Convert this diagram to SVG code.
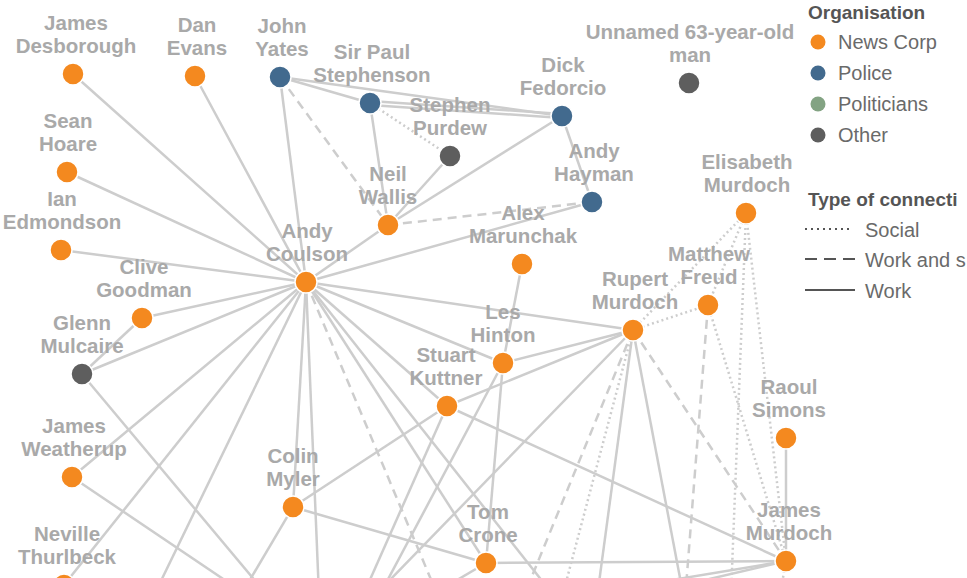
<svg xmlns="http://www.w3.org/2000/svg" width="967" height="578" viewBox="0 0 967 578">
<style>
.e{stroke:#cdcdcd;stroke-width:2.5;fill:none}
.d{stroke-dasharray:9,6}
.o{stroke-dasharray:2,3}
.n{stroke:#fff;stroke-width:1.5}
.news{fill:#f4891f}
.police{fill:#426a8e}
.pol{fill:#83a383}
.other{fill:#5e5e5e}
.lb{font-family:"Liberation Sans",Arial,sans-serif;font-weight:bold;font-size:20.5px;fill:#a9a9a9;text-anchor:middle}
.lt{font-family:"Liberation Sans",Arial,sans-serif;font-weight:bold;font-size:19px;fill:#555}
.li{font-family:"Liberation Sans",Arial,sans-serif;font-size:20px;fill:#6a6a6a}
.ll{stroke:#555;stroke-width:2.2;fill:none}
</style>
<rect width="967" height="578" fill="#fff"/>
<g id="connectors">
<line class="e" x1="306" y1="282" x2="73" y2="74"/>
<line class="e" x1="306" y1="282" x2="195" y2="76"/>
<line class="e" x1="306" y1="282" x2="280" y2="77"/>
<line class="e" x1="306" y1="282" x2="67" y2="172"/>
<line class="e" x1="306" y1="282" x2="61" y2="250"/>
<line class="e" x1="306" y1="282" x2="142" y2="318"/>
<line class="e" x1="306" y1="282" x2="82" y2="374"/>
<line class="e" x1="306" y1="282" x2="388" y2="225"/>
<line class="e" x1="306" y1="282" x2="592" y2="202"/>
<line class="e" x1="306" y1="282" x2="633" y2="330"/>
<line class="e" x1="306" y1="282" x2="503" y2="363"/>
<line class="e" x1="306" y1="282" x2="447" y2="406"/>
<line class="e" x1="306" y1="282" x2="72" y2="477"/>
<line class="e" x1="306" y1="282" x2="64" y2="585"/>
<line class="e" x1="306" y1="282" x2="293" y2="507"/>
<line class="e" x1="306" y1="282" x2="486" y2="563"/>
<line class="e" x1="306" y1="282" x2="142" y2="620"/>
<line class="e" x1="306" y1="282" x2="320" y2="620"/>
<line class="e" x1="306" y1="282" x2="573" y2="620"/>
<line class="e d" x1="306" y1="282" x2="448" y2="620"/>
<line class="e" x1="280" y1="77" x2="370" y2="103"/>
<line class="e" x1="280" y1="77" x2="562" y2="116"/>
<line class="e d" x1="280" y1="77" x2="388" y2="225"/>
<line class="e" x1="370" y1="101" x2="562" y2="114"/>
<line class="e" x1="370" y1="105" x2="562" y2="118"/>
<line class="e" x1="370" y1="103" x2="388" y2="225"/>
<line class="e o" x1="370" y1="103" x2="450" y2="156"/>
<line class="e" x1="388" y1="225" x2="450" y2="156"/>
<line class="e" x1="388" y1="225" x2="562" y2="116"/>
<line class="e d" x1="388" y1="225" x2="592" y2="202"/>
<line class="e" x1="562" y1="116" x2="592" y2="202"/>
<line class="e" x1="142" y1="318" x2="82" y2="374"/>
<line class="e" x1="82" y1="374" x2="288" y2="620"/>
<line class="e" x1="72" y1="477" x2="284" y2="620"/>
<line class="e" x1="293" y1="507" x2="238" y2="600"/>
<line class="e" x1="522" y1="264" x2="503" y2="363"/>
<line class="e" x1="503" y1="363" x2="486" y2="563"/>
<line class="e" x1="503" y1="363" x2="633" y2="330"/>
<line class="e" x1="503" y1="363" x2="377" y2="600"/>
<line class="e" x1="447" y1="406" x2="633" y2="330"/>
<line class="e" x1="447" y1="406" x2="293" y2="507"/>
<line class="e" x1="447" y1="406" x2="786" y2="561"/>
<line class="e" x1="447" y1="406" x2="361" y2="600"/>
<line class="e" x1="293" y1="507" x2="486" y2="563"/>
<line class="e" x1="486" y1="563" x2="786" y2="561"/>
<line class="e" x1="486" y1="563" x2="430" y2="596"/>
<line class="e" x1="786" y1="438" x2="786" y2="561"/>
<line class="e" x1="786" y1="561" x2="600" y2="592"/>
<line class="e" x1="786" y1="561" x2="620" y2="600"/>
<line class="e o" x1="786" y1="561" x2="779" y2="600"/>
<line class="e o" x1="633" y1="330" x2="708" y2="305"/>
<line class="e o" x1="633" y1="330" x2="746" y2="213"/>
<line class="e o" x1="746" y1="213" x2="708" y2="305"/>
<line class="e o" x1="746" y1="213" x2="786" y2="561"/>
<line class="e o" x1="708" y1="305" x2="786" y2="561"/>
<line class="e o" x1="746" y1="213" x2="730" y2="620"/>
<line class="e d" x1="633" y1="330" x2="786" y2="561"/>
<line class="e d" x1="708" y1="305" x2="685" y2="600"/>
<line class="e" x1="633" y1="330" x2="351" y2="620"/>
<line class="e d" x1="633" y1="330" x2="514" y2="620"/>
<line class="e o" x1="633" y1="330" x2="556" y2="620"/>
<line class="e" x1="633" y1="330" x2="594" y2="620"/>
<line class="e" x1="633" y1="330" x2="688" y2="620"/>
</g>
<g id="desborough"><circle class="n news" cx="73" cy="74" r="11"/><text class="lb" x="76" y="30">James</text><text class="lb" x="76" y="53">Desborough</text></g>
<g id="evans"><circle class="n news" cx="195" cy="76" r="11"/><text class="lb" x="197" y="32">Dan</text><text class="lb" x="197" y="55">Evans</text></g>
<g id="yates"><circle class="n police" cx="280" cy="77" r="11"/><text class="lb" x="282" y="33">John</text><text class="lb" x="282" y="56">Yates</text></g>
<g id="stephenson"><circle class="n police" cx="370" cy="103" r="11"/><text class="lb" x="372" y="59">Sir Paul</text><text class="lb" x="372" y="82">Stephenson</text></g>
<g id="purdew"><circle class="n other" cx="450" cy="156" r="11"/><text class="lb" x="450" y="112">Stephen</text><text class="lb" x="450" y="135">Purdew</text></g>
<g id="fedorcio"><circle class="n police" cx="562" cy="116" r="11"/><text class="lb" x="563" y="72">Dick</text><text class="lb" x="563" y="95">Fedorcio</text></g>
<g id="unnamed"><circle class="n other" cx="689" cy="83" r="11"/><text class="lb" x="690" y="39">Unnamed 63-year-old</text><text class="lb" x="690" y="62">man</text></g>
<g id="hoare"><circle class="n news" cx="67" cy="172" r="11"/><text class="lb" x="68" y="128">Sean</text><text class="lb" x="68" y="151">Hoare</text></g>
<g id="hayman"><circle class="n police" cx="592" cy="202" r="11"/><text class="lb" x="594" y="158">Andy</text><text class="lb" x="594" y="181">Hayman</text></g>
<g id="elisabeth"><circle class="n news" cx="746" cy="213" r="11"/><text class="lb" x="747" y="169">Elisabeth</text><text class="lb" x="747" y="192">Murdoch</text></g>
<g id="wallis"><circle class="n news" cx="388" cy="225" r="11"/><text class="lb" x="388" y="181">Neil</text><text class="lb" x="388" y="204">Wallis</text></g>
<g id="edmondson"><circle class="n news" cx="61" cy="250" r="11"/><text class="lb" x="62" y="206">Ian</text><text class="lb" x="62" y="229">Edmondson</text></g>
<g id="marunchak"><circle class="n news" cx="522" cy="264" r="11"/><text class="lb" x="523" y="220">Alex</text><text class="lb" x="523" y="243">Marunchak</text></g>
<g id="coulson"><circle class="n news" cx="306" cy="282" r="11"/><text class="lb" x="307" y="238">Andy</text><text class="lb" x="307" y="261">Coulson</text></g>
<g id="goodman"><circle class="n news" cx="142" cy="318" r="11"/><text class="lb" x="144" y="274">Clive</text><text class="lb" x="144" y="297">Goodman</text></g>
<g id="freud"><circle class="n news" cx="708" cy="305" r="11"/><text class="lb" x="709" y="261">Matthew</text><text class="lb" x="709" y="284">Freud</text></g>
<g id="rupert"><circle class="n news" cx="633" cy="330" r="11"/><text class="lb" x="635" y="286">Rupert</text><text class="lb" x="635" y="309">Murdoch</text></g>
<g id="hinton"><circle class="n news" cx="503" cy="363" r="11"/><text class="lb" x="503" y="319">Les</text><text class="lb" x="503" y="342">Hinton</text></g>
<g id="mulcaire"><circle class="n other" cx="82" cy="374" r="11"/><text class="lb" x="82" y="330">Glenn</text><text class="lb" x="82" y="353">Mulcaire</text></g>
<g id="kuttner"><circle class="n news" cx="447" cy="406" r="11"/><text class="lb" x="446" y="362">Stuart</text><text class="lb" x="446" y="385">Kuttner</text></g>
<g id="simons"><circle class="n news" cx="786" cy="438" r="11"/><text class="lb" x="789" y="394">Raoul</text><text class="lb" x="789" y="417">Simons</text></g>
<g id="weatherup"><circle class="n news" cx="72" cy="477" r="11"/><text class="lb" x="74" y="433">James</text><text class="lb" x="74" y="456">Weatherup</text></g>
<g id="myler"><circle class="n news" cx="293" cy="507" r="11"/><text class="lb" x="293" y="463">Colin</text><text class="lb" x="293" y="486">Myler</text></g>
<g id="crone"><circle class="n news" cx="486" cy="563" r="11"/><text class="lb" x="488" y="519">Tom</text><text class="lb" x="488" y="542">Crone</text></g>
<g id="jmurdoch"><circle class="n news" cx="786" cy="561" r="11"/><text class="lb" x="789" y="517">James</text><text class="lb" x="789" y="540">Murdoch</text></g>
<g id="thurlbeck"><circle class="n news" cx="64" cy="585" r="11"/><text class="lb" x="67" y="541">Neville</text><text class="lb" x="67" y="564">Thurlbeck</text></g>
<g id="legend">
<text class="lt" x="808" y="19">Organisation</text>
<circle class="news" cx="818" cy="42" r="7.5"/><text class="li" x="838" y="49">News Corp</text>
<circle class="police" cx="818" cy="73" r="7.5"/><text class="li" x="838" y="80">Police</text>
<circle class="pol" cx="818" cy="104" r="7.5"/><text class="li" x="838" y="111">Politicians</text>
<circle class="other" cx="818" cy="135" r="7.5"/><text class="li" x="838" y="142">Other</text>
<text class="lt" x="808" y="206">Type of connecti</text>
<line class="ll" x1="805" y1="229" x2="853" y2="229" stroke-dasharray="2,4"/><text class="li" x="865" y="237">Social</text>
<line class="ll" x1="805" y1="259" x2="855" y2="259" stroke-dasharray="12,7"/><text class="li" x="865" y="267">Work and s</text>
<line class="ll" x1="805" y1="290" x2="855" y2="290"/><text class="li" x="865" y="298">Work</text>
</g>
</svg>
